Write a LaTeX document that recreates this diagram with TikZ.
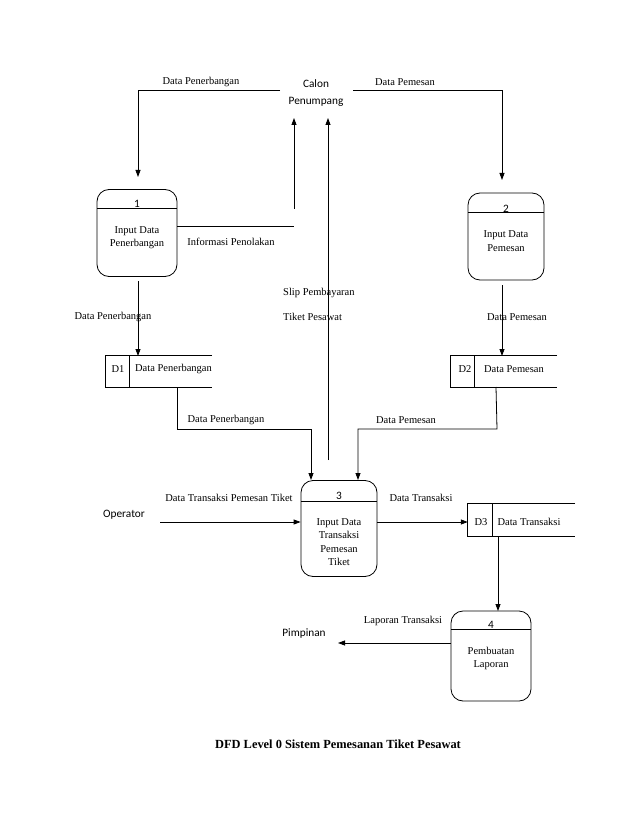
\documentclass[tikz,border=0pt]{standalone}
\usepackage{fontspec}
\setmainfont{Liberation Serif}
\newfontfamily\calib{Carlito}
\usetikzlibrary{arrows.meta}
\tikzset{
  ln/.style={line width=0.8pt, draw=black},
  arr/.style={ln, -{Triangle[length=7pt,width=5pt]}},
  proc/.style={draw, line width=0.8pt, rounded corners=12pt, inner sep=0pt},
  store/.style={inner sep=0pt},
  lbl/.style={font=\fontsize{10.5}{13}\selectfont, inner sep=0pt},
  ptxt/.style={font=\fontsize{10.5}{13.3}\selectfont, align=center, inner sep=0pt},
  sans/.style={font=\calib\fontsize{11.3}{17}\selectfont, inner sep=0pt},
}
\begin{document}
\begin{tikzpicture}[x=1pt,y=-1pt]
\useasboundingbox (0,0) rectangle (638,826);
\fill[white] (0,0) rectangle (638,826);

% external entities
\node[sans, align=center] (cp) at (316,93.5) {Calon\\Penumpang};
\node[sans] (op) at (124,515) {Operator};
\node[sans] (pim) at (304,634) {Pimpinan};

% processes
\node[proc, minimum width=80pt, minimum height=87pt] (p1) at (137,233) {};
\draw[ln] (97,208) -- (177,208);
\node[sans] (n1) at (137,204) {1};
\node[ptxt] (t1) at (137,237.5) {Input Data\\Penerbangan};

\node[proc, minimum width=76pt, minimum height=87pt] (p2) at (506,236.5) {};
\draw[ln] (468,212) -- (544,212);
\node[sans] (n2) at (506,209) {2};
\node[ptxt] (t2) at (506,241) {Input Data\\Pemesan};

\node[proc, minimum width=76pt, minimum height=96pt] (p3) at (339,528.5) {};
\draw[ln] (301,501) -- (377,501);
\node[sans] (n3) at (339,496) {3};
\node[ptxt] (t3) at (339,542) {Input Data\\Transaksi\\Pemesan\\Tiket};

\node[proc, minimum width=80pt, minimum height=90pt] (p4) at (491,656) {};
\draw[ln] (451,629) -- (531,629);
\node[sans] (n4) at (491,625) {4};
\node[ptxt] (t4) at (491,658.5) {Pembuatan\\Laporan};

% data stores
\node[store, minimum width=106pt, minimum height=31pt] (d1) at (159,371.5) {};
\draw[ln] (d1.north east) -- (d1.north west) -- (d1.south west) -- (d1.south east);
\draw[ln] (129,356) -- (129,387);
\node[lbl] (d1a) at (118,369) {D1};
\node[lbl] (d1b) at (173.5,369) {Data Penerbangan};

\node[store, minimum width=106pt, minimum height=31pt] (d2) at (504,371.5) {};
\draw[ln] (d2.north east) -- (d2.north west) -- (d2.south west) -- (d2.south east);
\draw[ln] (474,356) -- (474,387);
\node[lbl] (d2a) at (465,369) {D2};
\node[lbl] (d2b) at (514,369) {Data Pemesan};

\node[store, minimum width=107pt, minimum height=32pt] (d3) at (521.5,520) {};
\draw[ln] (d3.north east) -- (d3.north west) -- (d3.south west) -- (d3.south east);
\draw[ln] (492,504) -- (492,536);
\node[lbl] (d3a) at (481,522) {D3};
\node[lbl] (d3b) at (529,522) {Data Transaksi};

% coordinates for free ends
\coordinate (cpL) at (280,90);
\coordinate (cpR) at (353,90);
\coordinate (ip) at (294,226);
\coordinate (ipU) at (294,209);
\coordinate (sl) at (328,460);

% connectors
\draw[arr] (cpL) -- (138,90) -- (138,177);
\draw[arr] (cpR) -- (502,90) -- (502,180);
\draw[ln] (p1.east |- ip) -- (ip);
\draw[arr] (ipU) -- (294,118);
\draw[arr] (sl) -- (328,118);
\draw[arr] (138,281) -- (138,356);
\draw[arr] (502,285) -- (502,356);
\draw[arr] (177,387) -- (177,429) -- (311,429) -- (311,480);
\draw[arr] (496,387) -- (497,429) -- (358,429) -- (358,480);
\draw[arr] (160,522) -- (p3.west |- 0,522);
\draw[arr] (p3.east |- 0,522) -- (d3.west |- 0,522);
\draw[arr] (498,536) -- (498,611);
\draw[arr] (p4.west |- 0,643) -- (338,643);

% labels
\node[lbl] (l1) at (201,82) {Data Penerbangan};
\node[lbl] (l2) at (405,82) {Data Pemesan};
\node[lbl] (l3) at (231,242) {Informasi Penolakan};
\node[lbl, anchor=west] (l4) at (283,293) {Slip Pembayaran};
\node[lbl, anchor=west] (l5) at (283,317) {Tiket Pesawat};
\node[lbl] (l6) at (113,317) {Data Penerbangan};
\node[lbl] (l7) at (517,317) {Data Pemesan};
\node[lbl] (l8) at (226,420) {Data Penerbangan};
\node[lbl] (l9) at (406,420) {Data Pemesan};
\node[lbl] (l10) at (229,498) {Data Transaksi Pemesan Tiket};
\node[lbl] (l11) at (421,498) {Data Transaksi};
\node[lbl] (l12) at (403,621) {Laporan Transaksi};

% caption
\node[font=\bfseries\fontsize{12.4}{14}\selectfont, inner sep=0pt] (cap) at (338,744) {DFD Level 0 Sistem Pemesanan Tiket Pesawat};
\end{tikzpicture}
\end{document}
